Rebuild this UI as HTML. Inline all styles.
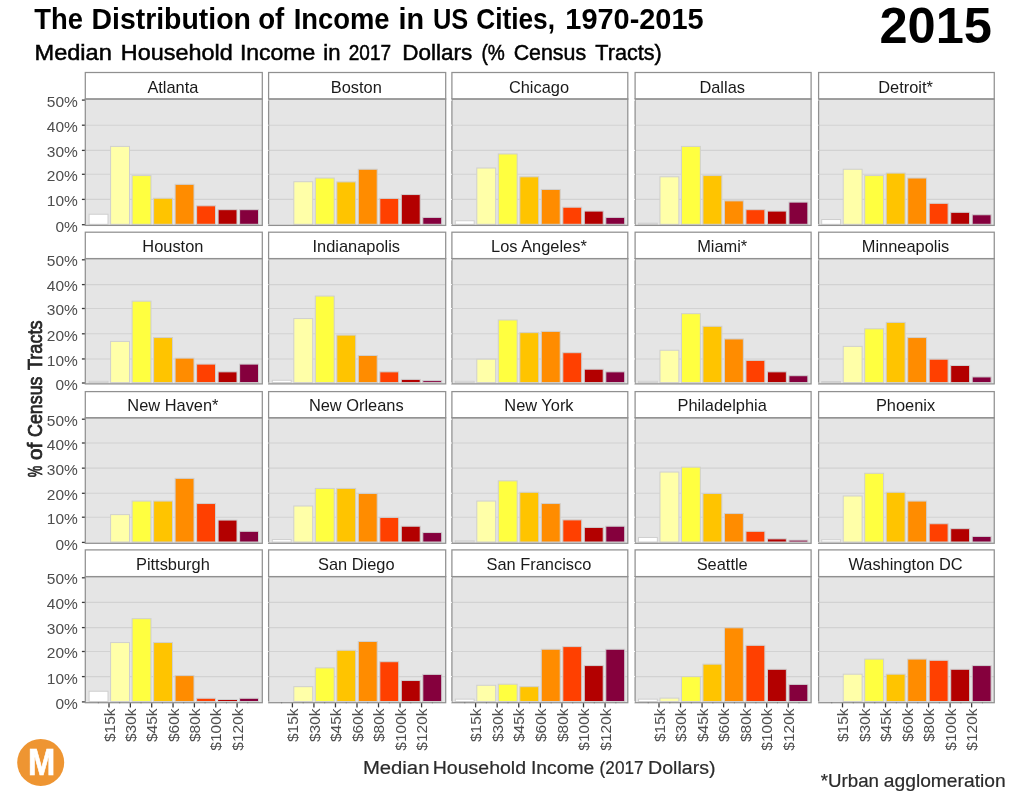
<!DOCTYPE html>
<html lang="en"><head><meta charset="utf-8">
<title>The Distribution of Income in US Cities, 1970-2015</title>
<style>
html,body{margin:0;padding:0;background:#fff;}
body{width:1024px;height:812px;overflow:hidden;}
svg{display:block;font-family:"Liberation Sans",Arial,sans-serif;}
.ttl{font-weight:bold;fill:#000;}
.sub{fill:#000;stroke:#000;stroke-width:0.5;}
.yr{font-weight:bold;fill:#000;}
.strip{fill:#1a1a1a;text-anchor:middle;}
.ax{fill:#4d4d4d;}
.axt{fill:#2b2b2b;stroke:#2b2b2b;stroke-width:0.2;}
.ayt{fill:#262626;stroke:#262626;stroke-width:0.75;}
.b rect{stroke:#cfcfcf;stroke-width:1;}
.g line{stroke:#d2d2d2;stroke-width:1.1;}
.t line{stroke:#3a3a3a;stroke-width:1.3;}
.w line{stroke:#fff;stroke-width:1;}
.m line{stroke:#555;stroke-width:1;opacity:.55;}
.bd{fill:none;stroke:#909090;stroke-width:1.25;}
</style></head><body>
<svg width="1024" height="812" viewBox="0 0 1024 812" role="img" aria-label="The Distribution of Income in US Cities, 2015">
<g>
<rect width="1024" height="812" fill="#fff"/>
<text class="ttl" y="29" font-size="29.2"><tspan x="34.3" textLength="48.7" lengthAdjust="spacingAndGlyphs">The</tspan> <tspan x="91.5" textLength="159.4" lengthAdjust="spacingAndGlyphs">Distribution</tspan> <tspan x="258.2" textLength="26.1" lengthAdjust="spacingAndGlyphs">of</tspan> <tspan x="293.65" textLength="95.9" lengthAdjust="spacingAndGlyphs">Income</tspan> <tspan x="398.5" textLength="25.65" lengthAdjust="spacingAndGlyphs">in</tspan> <tspan x="432.9" textLength="35.3" lengthAdjust="spacingAndGlyphs">US</tspan> <tspan x="476.2" textLength="78.85" lengthAdjust="spacingAndGlyphs">Cities,</tspan> <tspan x="565.3" textLength="138.3" lengthAdjust="spacingAndGlyphs">1970-2015</tspan></text>
<text class="sub" y="59.7" font-size="22"><tspan x="34.5" textLength="77.3" lengthAdjust="spacingAndGlyphs">Median</tspan> <tspan x="120.75" textLength="111.9" lengthAdjust="spacingAndGlyphs">Household</tspan> <tspan x="239.9" textLength="75.45" lengthAdjust="spacingAndGlyphs">Income</tspan> <tspan x="323.25" textLength="17.2" lengthAdjust="spacingAndGlyphs">in</tspan> <tspan x="348.8" textLength="42.3" lengthAdjust="spacingAndGlyphs">2017</tspan> <tspan x="402.2" textLength="70.15" lengthAdjust="spacingAndGlyphs">Dollars</tspan> <tspan x="481.45" textLength="23.4" lengthAdjust="spacingAndGlyphs">(%</tspan> <tspan x="513.65" textLength="72.45" lengthAdjust="spacingAndGlyphs">Census</tspan> <tspan x="595.35" textLength="66.3" lengthAdjust="spacingAndGlyphs">Tracts)</tspan></text>
<text class="yr" x="879.4" y="43.2" font-size="50.4" textLength="112.6" lengthAdjust="spacingAndGlyphs">2015</text>
<g>
<rect x="85.3" y="99" width="177" height="126.4" fill="#e5e5e5"/>
<g class="g"><line x1="85.3" x2="262.3" y1="125.2" y2="125.2"/><line x1="85.3" x2="262.3" y1="150.4" y2="150.4"/><line x1="85.3" x2="262.3" y1="174.3" y2="174.3"/><line x1="85.3" x2="262.3" y1="199.4" y2="199.4"/></g>
<g class="b">
<rect x="89.1" y="214.24" width="18.9" height="10.06" fill="#ffffff"/>
<rect x="110.6" y="146.39" width="18.9" height="77.91" fill="#ffffa8"/>
<rect x="132.1" y="175.57" width="18.9" height="48.73" fill="#ffff40"/>
<rect x="153.6" y="198.25" width="18.9" height="26.05" fill="#ffc400"/>
<rect x="175.1" y="184.36" width="18.9" height="39.94" fill="#ff8c00"/>
<rect x="196.6" y="205.81" width="18.9" height="18.49" fill="#ff4000"/>
<rect x="218.1" y="209.67" width="18.9" height="14.63" fill="#b30000"/>
<rect x="239.6" y="209.67" width="18.9" height="14.63" fill="#85003d"/>
</g>
<rect class="bd" x="85.3" y="72.5" width="177" height="26.5" fill="#fff" style="fill:#fff"/>
<rect class="bd" x="85.3" y="99" width="177" height="126.4"/>
<text class="strip" x="172.9" y="93.2" font-size="16.4">Atlanta</text>
<g class="t"><line x1="81.9" x2="84.8" y1="100.1" y2="100.1"/><line x1="81.9" x2="84.8" y1="125.2" y2="125.2"/><line x1="81.9" x2="84.8" y1="150.4" y2="150.4"/><line x1="81.9" x2="84.8" y1="174.3" y2="174.3"/><line x1="81.9" x2="84.8" y1="199.4" y2="199.4"/><line x1="81.9" x2="84.8" y1="224.7" y2="224.7"/></g>
<text class="ax" x="77.9" y="106.65" font-size="15.5" text-anchor="end">50%</text>
<text class="ax" x="77.9" y="131.88" font-size="15.5" text-anchor="end">40%</text>
<text class="ax" x="77.9" y="157.21" font-size="15.5" text-anchor="end">30%</text>
<text class="ax" x="77.9" y="181.24" font-size="15.5" text-anchor="end">20%</text>
<text class="ax" x="77.9" y="206.47" font-size="15.5" text-anchor="end">10%</text>
<text class="ax" x="77.9" y="231.9" font-size="15.5" text-anchor="end">0%</text>
</g>
<g>
<rect x="268.6" y="99" width="177.1" height="126.4" fill="#e5e5e5"/>
<g class="g"><line x1="268.6" x2="445.7" y1="125.2" y2="125.2"/><line x1="268.6" x2="445.7" y1="150.4" y2="150.4"/><line x1="268.6" x2="445.7" y1="174.3" y2="174.3"/><line x1="268.6" x2="445.7" y1="199.4" y2="199.4"/></g>
<g class="b">
<rect x="293.8" y="181.72" width="18.9" height="42.58" fill="#ffffa8"/>
<rect x="315.3" y="178.03" width="18.9" height="46.27" fill="#ffff40"/>
<rect x="336.8" y="181.9" width="18.9" height="42.4" fill="#ffc400"/>
<rect x="358.3" y="169.24" width="18.9" height="55.06" fill="#ff8c00"/>
<rect x="379.8" y="198.42" width="18.9" height="25.88" fill="#ff4000"/>
<rect x="401.3" y="194.56" width="18.9" height="29.74" fill="#b30000"/>
<rect x="422.8" y="217.41" width="18.9" height="6.89" fill="#85003d"/>
</g>
<rect class="bd" x="268.6" y="72.5" width="177.1" height="26.5" fill="#fff" style="fill:#fff"/>
<rect class="bd" x="268.6" y="99" width="177.1" height="126.4"/>
<text class="strip" x="356.25" y="93.2" font-size="16.4">Boston</text>
<g class="w"><line x1="265.2" x2="268.6" y1="100.1" y2="100.1"/><line x1="265.2" x2="268.6" y1="125.2" y2="125.2"/><line x1="265.2" x2="268.6" y1="150.4" y2="150.4"/><line x1="265.2" x2="268.6" y1="174.3" y2="174.3"/><line x1="265.2" x2="268.6" y1="199.4" y2="199.4"/><line x1="265.2" x2="268.6" y1="224.7" y2="224.7"/></g>
</g>
<g>
<rect x="451.9" y="99" width="175.9" height="126.4" fill="#e5e5e5"/>
<g class="g"><line x1="451.9" x2="627.8" y1="125.2" y2="125.2"/><line x1="451.9" x2="627.8" y1="150.4" y2="150.4"/><line x1="451.9" x2="627.8" y1="174.3" y2="174.3"/><line x1="451.9" x2="627.8" y1="199.4" y2="199.4"/></g>
<g class="b">
<rect x="455.3" y="220.75" width="18.9" height="3.55" fill="#ffffff"/>
<rect x="476.8" y="168.01" width="18.9" height="56.29" fill="#ffffa8"/>
<rect x="498.3" y="153.95" width="18.9" height="70.35" fill="#ffff40"/>
<rect x="519.8" y="176.8" width="18.9" height="47.5" fill="#ffc400"/>
<rect x="541.3" y="189.46" width="18.9" height="34.84" fill="#ff8c00"/>
<rect x="562.8" y="207.21" width="18.9" height="17.09" fill="#ff4000"/>
<rect x="584.3" y="211.08" width="18.9" height="13.22" fill="#b30000"/>
<rect x="605.8" y="217.41" width="18.9" height="6.89" fill="#85003d"/>
</g>
<rect class="bd" x="451.9" y="72.5" width="175.9" height="26.5" fill="#fff" style="fill:#fff"/>
<rect class="bd" x="451.9" y="99" width="175.9" height="126.4"/>
<text class="strip" x="538.95" y="93.2" font-size="16.4">Chicago</text>
<g class="w"><line x1="448.5" x2="451.9" y1="100.1" y2="100.1"/><line x1="448.5" x2="451.9" y1="125.2" y2="125.2"/><line x1="448.5" x2="451.9" y1="150.4" y2="150.4"/><line x1="448.5" x2="451.9" y1="174.3" y2="174.3"/><line x1="448.5" x2="451.9" y1="199.4" y2="199.4"/><line x1="448.5" x2="451.9" y1="224.7" y2="224.7"/></g>
</g>
<g>
<rect x="635.1" y="99" width="176" height="126.4" fill="#e5e5e5"/>
<g class="g"><line x1="635.1" x2="811.1" y1="125.2" y2="125.2"/><line x1="635.1" x2="811.1" y1="150.4" y2="150.4"/><line x1="635.1" x2="811.1" y1="174.3" y2="174.3"/><line x1="635.1" x2="811.1" y1="199.4" y2="199.4"/></g>
<g class="b">
<rect x="638.45" y="223.21" width="18.9" height="1.09" fill="#ffffff"/>
<rect x="659.95" y="176.8" width="18.9" height="47.5" fill="#ffffa8"/>
<rect x="681.45" y="146.39" width="18.9" height="77.91" fill="#ffff40"/>
<rect x="702.95" y="175.57" width="18.9" height="48.73" fill="#ffc400"/>
<rect x="724.45" y="200.88" width="18.9" height="23.42" fill="#ff8c00"/>
<rect x="745.95" y="209.67" width="18.9" height="14.63" fill="#ff4000"/>
<rect x="767.45" y="211.08" width="18.9" height="13.22" fill="#b30000"/>
<rect x="788.95" y="202.11" width="18.9" height="22.19" fill="#85003d"/>
</g>
<rect class="bd" x="635.1" y="72.5" width="176" height="26.5" fill="#fff" style="fill:#fff"/>
<rect class="bd" x="635.1" y="99" width="176" height="126.4"/>
<text class="strip" x="722.2" y="93.2" font-size="16.4">Dallas</text>
<g class="w"><line x1="631.7" x2="635.1" y1="100.1" y2="100.1"/><line x1="631.7" x2="635.1" y1="125.2" y2="125.2"/><line x1="631.7" x2="635.1" y1="150.4" y2="150.4"/><line x1="631.7" x2="635.1" y1="174.3" y2="174.3"/><line x1="631.7" x2="635.1" y1="199.4" y2="199.4"/><line x1="631.7" x2="635.1" y1="224.7" y2="224.7"/></g>
</g>
<g>
<rect x="818.6" y="99" width="175.65" height="126.4" fill="#e5e5e5"/>
<g class="g"><line x1="818.6" x2="994.25" y1="125.2" y2="125.2"/><line x1="818.6" x2="994.25" y1="150.4" y2="150.4"/><line x1="818.6" x2="994.25" y1="174.3" y2="174.3"/><line x1="818.6" x2="994.25" y1="199.4" y2="199.4"/></g>
<g class="b">
<rect x="821.7" y="219.52" width="18.9" height="4.78" fill="#ffffff"/>
<rect x="843.2" y="169.24" width="18.9" height="55.06" fill="#ffffa8"/>
<rect x="864.7" y="175.57" width="18.9" height="48.73" fill="#ffff40"/>
<rect x="886.2" y="173.11" width="18.9" height="51.19" fill="#ffc400"/>
<rect x="907.7" y="178.03" width="18.9" height="46.27" fill="#ff8c00"/>
<rect x="929.2" y="203.34" width="18.9" height="20.96" fill="#ff4000"/>
<rect x="950.7" y="212.31" width="18.9" height="11.99" fill="#b30000"/>
<rect x="972.2" y="214.77" width="18.9" height="9.53" fill="#85003d"/>
</g>
<rect class="bd" x="818.6" y="72.5" width="175.65" height="26.5" fill="#fff" style="fill:#fff"/>
<rect class="bd" x="818.6" y="99" width="175.65" height="126.4"/>
<text class="strip" x="905.52" y="93.2" font-size="16.4">Detroit*</text>
<g class="w"><line x1="815.2" x2="818.6" y1="100.1" y2="100.1"/><line x1="815.2" x2="818.6" y1="125.2" y2="125.2"/><line x1="815.2" x2="818.6" y1="150.4" y2="150.4"/><line x1="815.2" x2="818.6" y1="174.3" y2="174.3"/><line x1="815.2" x2="818.6" y1="199.4" y2="199.4"/><line x1="815.2" x2="818.6" y1="224.7" y2="224.7"/></g>
</g>
<g>
<rect x="85.3" y="258.6" width="177" height="125.3" fill="#e5e5e5"/>
<g class="g"><line x1="85.3" x2="262.3" y1="284.6" y2="284.6"/><line x1="85.3" x2="262.3" y1="308.5" y2="308.5"/><line x1="85.3" x2="262.3" y1="333.8" y2="333.8"/><line x1="85.3" x2="262.3" y1="358.95" y2="358.95"/></g>
<g class="b">
<rect x="89.1" y="381.33" width="18.9" height="1.27" fill="#ffffff"/>
<rect x="110.6" y="341.43" width="18.9" height="41.17" fill="#ffffa8"/>
<rect x="132.1" y="301.17" width="18.9" height="81.43" fill="#ffff40"/>
<rect x="153.6" y="337.56" width="18.9" height="45.04" fill="#ffc400"/>
<rect x="175.1" y="358.13" width="18.9" height="24.47" fill="#ff8c00"/>
<rect x="196.6" y="364.1" width="18.9" height="18.5" fill="#ff4000"/>
<rect x="218.1" y="371.84" width="18.9" height="10.76" fill="#b30000"/>
<rect x="239.6" y="364.1" width="18.9" height="18.5" fill="#85003d"/>
</g>
<rect class="bd" x="85.3" y="232.2" width="177" height="26.4" fill="#fff" style="fill:#fff"/>
<rect class="bd" x="85.3" y="258.6" width="177" height="125.3"/>
<text class="strip" x="172.9" y="251.5" font-size="16.4">Houston</text>
<g class="t"><line x1="81.9" x2="84.8" y1="259.8" y2="259.8"/><line x1="81.9" x2="84.8" y1="284.6" y2="284.6"/><line x1="81.9" x2="84.8" y1="308.5" y2="308.5"/><line x1="81.9" x2="84.8" y1="333.8" y2="333.8"/><line x1="81.9" x2="84.8" y1="358.95" y2="358.95"/><line x1="81.9" x2="84.8" y1="383" y2="383"/></g>
<text class="ax" x="77.9" y="266.35" font-size="15.5" text-anchor="end">50%</text>
<text class="ax" x="77.9" y="291.28" font-size="15.5" text-anchor="end">40%</text>
<text class="ax" x="77.9" y="315.31" font-size="15.5" text-anchor="end">30%</text>
<text class="ax" x="77.9" y="340.74" font-size="15.5" text-anchor="end">20%</text>
<text class="ax" x="77.9" y="366.02" font-size="15.5" text-anchor="end">10%</text>
<text class="ax" x="77.9" y="390.2" font-size="15.5" text-anchor="end">0%</text>
</g>
<g>
<rect x="268.6" y="258.6" width="177.1" height="125.3" fill="#e5e5e5"/>
<g class="g"><line x1="268.6" x2="445.7" y1="284.6" y2="284.6"/><line x1="268.6" x2="445.7" y1="308.5" y2="308.5"/><line x1="268.6" x2="445.7" y1="333.8" y2="333.8"/><line x1="268.6" x2="445.7" y1="358.95" y2="358.95"/></g>
<g class="b">
<rect x="272.3" y="380.27" width="18.9" height="2.33" fill="#ffffff"/>
<rect x="293.8" y="318.57" width="18.9" height="64.03" fill="#ffffa8"/>
<rect x="315.3" y="296.07" width="18.9" height="86.53" fill="#ffff40"/>
<rect x="336.8" y="335.1" width="18.9" height="47.5" fill="#ffc400"/>
<rect x="358.3" y="355.49" width="18.9" height="27.11" fill="#ff8c00"/>
<rect x="379.8" y="371.84" width="18.9" height="10.76" fill="#ff4000"/>
<rect x="401.3" y="379.4" width="18.9" height="3.2" fill="#b30000"/>
<rect x="422.8" y="380.63" width="18.9" height="1.97" fill="#85003d"/>
</g>
<rect class="bd" x="268.6" y="232.2" width="177.1" height="26.4" fill="#fff" style="fill:#fff"/>
<rect class="bd" x="268.6" y="258.6" width="177.1" height="125.3"/>
<text class="strip" x="356.25" y="251.5" font-size="16.4">Indianapolis</text>
<g class="w"><line x1="265.2" x2="268.6" y1="259.8" y2="259.8"/><line x1="265.2" x2="268.6" y1="284.6" y2="284.6"/><line x1="265.2" x2="268.6" y1="308.5" y2="308.5"/><line x1="265.2" x2="268.6" y1="333.8" y2="333.8"/><line x1="265.2" x2="268.6" y1="358.95" y2="358.95"/><line x1="265.2" x2="268.6" y1="383" y2="383"/></g>
</g>
<g>
<rect x="451.9" y="258.6" width="175.9" height="125.3" fill="#e5e5e5"/>
<g class="g"><line x1="451.9" x2="627.8" y1="284.6" y2="284.6"/><line x1="451.9" x2="627.8" y1="308.5" y2="308.5"/><line x1="451.9" x2="627.8" y1="333.8" y2="333.8"/><line x1="451.9" x2="627.8" y1="358.95" y2="358.95"/></g>
<g class="b">
<rect x="455.3" y="381.33" width="18.9" height="1.27" fill="#ffffff"/>
<rect x="476.8" y="359.18" width="18.9" height="23.42" fill="#ffffa8"/>
<rect x="498.3" y="319.98" width="18.9" height="62.62" fill="#ffff40"/>
<rect x="519.8" y="332.64" width="18.9" height="49.96" fill="#ffc400"/>
<rect x="541.3" y="331.41" width="18.9" height="51.19" fill="#ff8c00"/>
<rect x="562.8" y="352.68" width="18.9" height="29.92" fill="#ff4000"/>
<rect x="584.3" y="369.2" width="18.9" height="13.4" fill="#b30000"/>
<rect x="605.8" y="371.84" width="18.9" height="10.76" fill="#85003d"/>
</g>
<rect class="bd" x="451.9" y="232.2" width="175.9" height="26.4" fill="#fff" style="fill:#fff"/>
<rect class="bd" x="451.9" y="258.6" width="175.9" height="125.3"/>
<text class="strip" x="538.95" y="251.5" font-size="16.4">Los Angeles*</text>
<g class="w"><line x1="448.5" x2="451.9" y1="259.8" y2="259.8"/><line x1="448.5" x2="451.9" y1="284.6" y2="284.6"/><line x1="448.5" x2="451.9" y1="308.5" y2="308.5"/><line x1="448.5" x2="451.9" y1="333.8" y2="333.8"/><line x1="448.5" x2="451.9" y1="358.95" y2="358.95"/><line x1="448.5" x2="451.9" y1="383" y2="383"/></g>
</g>
<g>
<rect x="635.1" y="258.6" width="176" height="125.3" fill="#e5e5e5"/>
<g class="g"><line x1="635.1" x2="811.1" y1="284.6" y2="284.6"/><line x1="635.1" x2="811.1" y1="308.5" y2="308.5"/><line x1="635.1" x2="811.1" y1="333.8" y2="333.8"/><line x1="635.1" x2="811.1" y1="358.95" y2="358.95"/></g>
<g class="b">
<rect x="638.45" y="381.33" width="18.9" height="1.27" fill="#ffffff"/>
<rect x="659.95" y="350.22" width="18.9" height="32.38" fill="#ffffa8"/>
<rect x="681.45" y="313.65" width="18.9" height="68.95" fill="#ffff40"/>
<rect x="702.95" y="326.31" width="18.9" height="56.29" fill="#ffc400"/>
<rect x="724.45" y="338.97" width="18.9" height="43.63" fill="#ff8c00"/>
<rect x="745.95" y="360.41" width="18.9" height="22.19" fill="#ff4000"/>
<rect x="767.45" y="371.84" width="18.9" height="10.76" fill="#b30000"/>
<rect x="788.95" y="375.7" width="18.9" height="6.9" fill="#85003d"/>
</g>
<rect class="bd" x="635.1" y="232.2" width="176" height="26.4" fill="#fff" style="fill:#fff"/>
<rect class="bd" x="635.1" y="258.6" width="176" height="125.3"/>
<text class="strip" x="722.2" y="251.5" font-size="16.4">Miami*</text>
<g class="w"><line x1="631.7" x2="635.1" y1="259.8" y2="259.8"/><line x1="631.7" x2="635.1" y1="284.6" y2="284.6"/><line x1="631.7" x2="635.1" y1="308.5" y2="308.5"/><line x1="631.7" x2="635.1" y1="333.8" y2="333.8"/><line x1="631.7" x2="635.1" y1="358.95" y2="358.95"/><line x1="631.7" x2="635.1" y1="383" y2="383"/></g>
</g>
<g>
<rect x="818.6" y="258.6" width="175.65" height="125.3" fill="#e5e5e5"/>
<g class="g"><line x1="818.6" x2="994.25" y1="284.6" y2="284.6"/><line x1="818.6" x2="994.25" y1="308.5" y2="308.5"/><line x1="818.6" x2="994.25" y1="333.8" y2="333.8"/><line x1="818.6" x2="994.25" y1="358.95" y2="358.95"/></g>
<g class="b">
<rect x="821.7" y="381.5" width="18.9" height="1.1" fill="#ffffff"/>
<rect x="843.2" y="346.35" width="18.9" height="36.25" fill="#ffffa8"/>
<rect x="864.7" y="328.77" width="18.9" height="53.83" fill="#ffff40"/>
<rect x="886.2" y="322.44" width="18.9" height="60.16" fill="#ffc400"/>
<rect x="907.7" y="337.56" width="18.9" height="45.04" fill="#ff8c00"/>
<rect x="929.2" y="359.18" width="18.9" height="23.42" fill="#ff4000"/>
<rect x="950.7" y="365.51" width="18.9" height="17.09" fill="#b30000"/>
<rect x="972.2" y="376.93" width="18.9" height="5.67" fill="#85003d"/>
</g>
<rect class="bd" x="818.6" y="232.2" width="175.65" height="26.4" fill="#fff" style="fill:#fff"/>
<rect class="bd" x="818.6" y="258.6" width="175.65" height="125.3"/>
<text class="strip" x="905.52" y="251.5" font-size="16.4">Minneapolis</text>
<g class="w"><line x1="815.2" x2="818.6" y1="259.8" y2="259.8"/><line x1="815.2" x2="818.6" y1="284.6" y2="284.6"/><line x1="815.2" x2="818.6" y1="308.5" y2="308.5"/><line x1="815.2" x2="818.6" y1="333.8" y2="333.8"/><line x1="815.2" x2="818.6" y1="358.95" y2="358.95"/><line x1="815.2" x2="818.6" y1="383" y2="383"/></g>
</g>
<g>
<rect x="85.3" y="417.8" width="177" height="125.5" fill="#e5e5e5"/>
<g class="g"><line x1="85.3" x2="262.3" y1="443" y2="443"/><line x1="85.3" x2="262.3" y1="468.15" y2="468.15"/><line x1="85.3" x2="262.3" y1="493.3" y2="493.3"/><line x1="85.3" x2="262.3" y1="517.2" y2="517.2"/></g>
<g class="b">
<rect x="110.6" y="514.61" width="18.9" height="27.39" fill="#ffffa8"/>
<rect x="132.1" y="501.07" width="18.9" height="40.93" fill="#ffff40"/>
<rect x="153.6" y="501.07" width="18.9" height="40.93" fill="#ffc400"/>
<rect x="175.1" y="478.4" width="18.9" height="63.6" fill="#ff8c00"/>
<rect x="196.6" y="503.54" width="18.9" height="38.46" fill="#ff4000"/>
<rect x="218.1" y="520.06" width="18.9" height="21.94" fill="#b30000"/>
<rect x="239.6" y="531.31" width="18.9" height="10.69" fill="#85003d"/>
</g>
<rect class="bd" x="85.3" y="391.6" width="177" height="26.2" fill="#fff" style="fill:#fff"/>
<rect class="bd" x="85.3" y="417.8" width="177" height="125.5"/>
<text class="strip" x="172.9" y="411.4" font-size="16.4">New Haven*</text>
<g class="t"><line x1="81.9" x2="84.8" y1="419.2" y2="419.2"/><line x1="81.9" x2="84.8" y1="443" y2="443"/><line x1="81.9" x2="84.8" y1="468.15" y2="468.15"/><line x1="81.9" x2="84.8" y1="493.3" y2="493.3"/><line x1="81.9" x2="84.8" y1="517.2" y2="517.2"/><line x1="81.9" x2="84.8" y1="542.4" y2="542.4"/></g>
<text class="ax" x="77.9" y="425.75" font-size="15.5" text-anchor="end">50%</text>
<text class="ax" x="77.9" y="449.68" font-size="15.5" text-anchor="end">40%</text>
<text class="ax" x="77.9" y="474.96" font-size="15.5" text-anchor="end">30%</text>
<text class="ax" x="77.9" y="500.24" font-size="15.5" text-anchor="end">20%</text>
<text class="ax" x="77.9" y="524.27" font-size="15.5" text-anchor="end">10%</text>
<text class="ax" x="77.9" y="549.6" font-size="15.5" text-anchor="end">0%</text>
</g>
<g>
<rect x="268.6" y="417.8" width="177.1" height="125.5" fill="#e5e5e5"/>
<g class="g"><line x1="268.6" x2="445.7" y1="443" y2="443"/><line x1="268.6" x2="445.7" y1="468.15" y2="468.15"/><line x1="268.6" x2="445.7" y1="493.3" y2="493.3"/><line x1="268.6" x2="445.7" y1="517.2" y2="517.2"/></g>
<g class="b">
<rect x="272.3" y="539.57" width="18.9" height="2.43" fill="#ffffff"/>
<rect x="293.8" y="506" width="18.9" height="36" fill="#ffffa8"/>
<rect x="315.3" y="488.42" width="18.9" height="53.58" fill="#ffff40"/>
<rect x="336.8" y="488.42" width="18.9" height="53.58" fill="#ffc400"/>
<rect x="358.3" y="493.52" width="18.9" height="48.48" fill="#ff8c00"/>
<rect x="379.8" y="517.42" width="18.9" height="24.58" fill="#ff4000"/>
<rect x="401.3" y="526.21" width="18.9" height="15.79" fill="#b30000"/>
<rect x="422.8" y="532.54" width="18.9" height="9.46" fill="#85003d"/>
</g>
<rect class="bd" x="268.6" y="391.6" width="177.1" height="26.2" fill="#fff" style="fill:#fff"/>
<rect class="bd" x="268.6" y="417.8" width="177.1" height="125.5"/>
<text class="strip" x="356.25" y="411.4" font-size="16.4">New Orleans</text>
<g class="w"><line x1="265.2" x2="268.6" y1="419.2" y2="419.2"/><line x1="265.2" x2="268.6" y1="443" y2="443"/><line x1="265.2" x2="268.6" y1="468.15" y2="468.15"/><line x1="265.2" x2="268.6" y1="493.3" y2="493.3"/><line x1="265.2" x2="268.6" y1="517.2" y2="517.2"/><line x1="265.2" x2="268.6" y1="542.4" y2="542.4"/></g>
</g>
<g>
<rect x="451.9" y="417.8" width="175.9" height="125.5" fill="#e5e5e5"/>
<g class="g"><line x1="451.9" x2="627.8" y1="443" y2="443"/><line x1="451.9" x2="627.8" y1="468.15" y2="468.15"/><line x1="451.9" x2="627.8" y1="493.3" y2="493.3"/><line x1="451.9" x2="627.8" y1="517.2" y2="517.2"/></g>
<g class="b">
<rect x="455.3" y="540.8" width="18.9" height="1.2" fill="#ffffff"/>
<rect x="476.8" y="501.07" width="18.9" height="40.93" fill="#ffffa8"/>
<rect x="498.3" y="480.86" width="18.9" height="61.14" fill="#ffff40"/>
<rect x="519.8" y="492.29" width="18.9" height="49.71" fill="#ffc400"/>
<rect x="541.3" y="503.54" width="18.9" height="38.46" fill="#ff8c00"/>
<rect x="562.8" y="519.88" width="18.9" height="22.12" fill="#ff4000"/>
<rect x="584.3" y="527.44" width="18.9" height="14.56" fill="#b30000"/>
<rect x="605.8" y="526.21" width="18.9" height="15.79" fill="#85003d"/>
</g>
<rect class="bd" x="451.9" y="391.6" width="175.9" height="26.2" fill="#fff" style="fill:#fff"/>
<rect class="bd" x="451.9" y="417.8" width="175.9" height="125.5"/>
<text class="strip" x="538.95" y="411.4" font-size="16.4">New York</text>
<g class="w"><line x1="448.5" x2="451.9" y1="419.2" y2="419.2"/><line x1="448.5" x2="451.9" y1="443" y2="443"/><line x1="448.5" x2="451.9" y1="468.15" y2="468.15"/><line x1="448.5" x2="451.9" y1="493.3" y2="493.3"/><line x1="448.5" x2="451.9" y1="517.2" y2="517.2"/><line x1="448.5" x2="451.9" y1="542.4" y2="542.4"/></g>
</g>
<g>
<rect x="635.1" y="417.8" width="176" height="125.5" fill="#e5e5e5"/>
<g class="g"><line x1="635.1" x2="811.1" y1="443" y2="443"/><line x1="635.1" x2="811.1" y1="468.15" y2="468.15"/><line x1="635.1" x2="811.1" y1="493.3" y2="493.3"/><line x1="635.1" x2="811.1" y1="517.2" y2="517.2"/></g>
<g class="b">
<rect x="638.45" y="537.46" width="18.9" height="4.54" fill="#ffffff"/>
<rect x="659.95" y="472.07" width="18.9" height="69.93" fill="#ffffa8"/>
<rect x="681.45" y="467.15" width="18.9" height="74.85" fill="#ffff40"/>
<rect x="702.95" y="493.52" width="18.9" height="48.48" fill="#ffc400"/>
<rect x="724.45" y="513.56" width="18.9" height="28.44" fill="#ff8c00"/>
<rect x="745.95" y="531.31" width="18.9" height="10.69" fill="#ff4000"/>
<rect x="767.45" y="538.87" width="18.9" height="3.13" fill="#b30000"/>
<rect x="788.95" y="540.1" width="18.9" height="1.9" fill="#85003d"/>
</g>
<rect class="bd" x="635.1" y="391.6" width="176" height="26.2" fill="#fff" style="fill:#fff"/>
<rect class="bd" x="635.1" y="417.8" width="176" height="125.5"/>
<text class="strip" x="722.2" y="411.4" font-size="16.4">Philadelphia</text>
<g class="w"><line x1="631.7" x2="635.1" y1="419.2" y2="419.2"/><line x1="631.7" x2="635.1" y1="443" y2="443"/><line x1="631.7" x2="635.1" y1="468.15" y2="468.15"/><line x1="631.7" x2="635.1" y1="493.3" y2="493.3"/><line x1="631.7" x2="635.1" y1="517.2" y2="517.2"/><line x1="631.7" x2="635.1" y1="542.4" y2="542.4"/></g>
</g>
<g>
<rect x="818.6" y="417.8" width="175.65" height="125.5" fill="#e5e5e5"/>
<g class="g"><line x1="818.6" x2="994.25" y1="443" y2="443"/><line x1="818.6" x2="994.25" y1="468.15" y2="468.15"/><line x1="818.6" x2="994.25" y1="493.3" y2="493.3"/><line x1="818.6" x2="994.25" y1="517.2" y2="517.2"/></g>
<g class="b">
<rect x="821.7" y="539.75" width="18.9" height="2.25" fill="#ffffff"/>
<rect x="843.2" y="495.98" width="18.9" height="46.02" fill="#ffffa8"/>
<rect x="864.7" y="473.3" width="18.9" height="68.7" fill="#ffff40"/>
<rect x="886.2" y="492.29" width="18.9" height="49.71" fill="#ffc400"/>
<rect x="907.7" y="501.07" width="18.9" height="40.93" fill="#ff8c00"/>
<rect x="929.2" y="523.75" width="18.9" height="18.25" fill="#ff4000"/>
<rect x="950.7" y="528.67" width="18.9" height="13.33" fill="#b30000"/>
<rect x="972.2" y="536.41" width="18.9" height="5.59" fill="#85003d"/>
</g>
<rect class="bd" x="818.6" y="391.6" width="175.65" height="26.2" fill="#fff" style="fill:#fff"/>
<rect class="bd" x="818.6" y="417.8" width="175.65" height="125.5"/>
<text class="strip" x="905.52" y="411.4" font-size="16.4">Phoenix</text>
<g class="w"><line x1="815.2" x2="818.6" y1="419.2" y2="419.2"/><line x1="815.2" x2="818.6" y1="443" y2="443"/><line x1="815.2" x2="818.6" y1="468.15" y2="468.15"/><line x1="815.2" x2="818.6" y1="493.3" y2="493.3"/><line x1="815.2" x2="818.6" y1="517.2" y2="517.2"/><line x1="815.2" x2="818.6" y1="542.4" y2="542.4"/></g>
</g>
<g>
<rect x="85.3" y="576.6" width="177" height="126.1" fill="#e5e5e5"/>
<g class="g"><line x1="85.3" x2="262.3" y1="602.4" y2="602.4"/><line x1="85.3" x2="262.3" y1="627.6" y2="627.6"/><line x1="85.3" x2="262.3" y1="651.5" y2="651.5"/><line x1="85.3" x2="262.3" y1="676.6" y2="676.6"/></g>
<g class="b">
<rect x="89.1" y="691.24" width="18.9" height="10.26" fill="#ffffff"/>
<rect x="110.6" y="642.55" width="18.9" height="58.95" fill="#ffffa8"/>
<rect x="132.1" y="618.65" width="18.9" height="82.85" fill="#ffff40"/>
<rect x="153.6" y="642.55" width="18.9" height="58.95" fill="#ffc400"/>
<rect x="175.1" y="675.6" width="18.9" height="25.9" fill="#ff8c00"/>
<rect x="196.6" y="698.27" width="18.9" height="3.23" fill="#ff4000"/>
<rect x="218.1" y="699.5" width="18.9" height="2" fill="#b30000"/>
<rect x="239.6" y="698.27" width="18.9" height="3.23" fill="#85003d"/>
</g>
<rect class="bd" x="85.3" y="549.9" width="177" height="26.7" fill="#fff" style="fill:#fff"/>
<rect class="bd" x="85.3" y="576.6" width="177" height="126.1"/>
<text class="strip" x="172.9" y="570" font-size="16.4">Pittsburgh</text>
<g class="t"><line x1="81.9" x2="84.8" y1="577.8" y2="577.8"/><line x1="81.9" x2="84.8" y1="602.4" y2="602.4"/><line x1="81.9" x2="84.8" y1="627.6" y2="627.6"/><line x1="81.9" x2="84.8" y1="651.5" y2="651.5"/><line x1="81.9" x2="84.8" y1="676.6" y2="676.6"/><line x1="81.9" x2="84.8" y1="701.9" y2="701.9"/></g>
<text class="ax" x="77.9" y="584.35" font-size="15.5" text-anchor="end">50%</text>
<text class="ax" x="77.9" y="609.08" font-size="15.5" text-anchor="end">40%</text>
<text class="ax" x="77.9" y="634.41" font-size="15.5" text-anchor="end">30%</text>
<text class="ax" x="77.9" y="658.44" font-size="15.5" text-anchor="end">20%</text>
<text class="ax" x="77.9" y="683.67" font-size="15.5" text-anchor="end">10%</text>
<text class="ax" x="77.9" y="709.1" font-size="15.5" text-anchor="end">0%</text>
<g class="t">
<line x1="109" x2="109" y1="703.2" y2="707.4"/>
<line x1="130.35" x2="130.35" y1="703.2" y2="707.4"/>
<line x1="151.7" x2="151.7" y1="703.2" y2="707.4"/>
<line x1="173.05" x2="173.05" y1="703.2" y2="707.4"/>
<line x1="194.4" x2="194.4" y1="703.2" y2="707.4"/>
<line x1="215.75" x2="215.75" y1="703.2" y2="707.4"/>
<line x1="237.1" x2="237.1" y1="703.2" y2="707.4"/>
</g>
<g class="m">
<line x1="98.33" x2="98.33" y1="702.3" y2="703.4"/>
<line x1="119.67" x2="119.67" y1="702.3" y2="703.4"/>
<line x1="141.03" x2="141.03" y1="702.3" y2="703.4"/>
<line x1="162.38" x2="162.38" y1="702.3" y2="703.4"/>
<line x1="183.73" x2="183.73" y1="702.3" y2="703.4"/>
<line x1="205.07" x2="205.07" y1="702.3" y2="703.4"/>
<line x1="226.43" x2="226.43" y1="702.3" y2="703.4"/>
<line x1="247.78" x2="247.78" y1="702.3" y2="703.4"/>
</g>
<text class="ax" transform="translate(114.6,708.4) rotate(-90)" font-size="15.5" text-anchor="end">$15k</text>
<text class="ax" transform="translate(135.95,708.4) rotate(-90)" font-size="15.5" text-anchor="end">$30k</text>
<text class="ax" transform="translate(157.3,708.4) rotate(-90)" font-size="15.5" text-anchor="end">$45k</text>
<text class="ax" transform="translate(178.65,708.4) rotate(-90)" font-size="15.5" text-anchor="end">$60k</text>
<text class="ax" transform="translate(200,708.4) rotate(-90)" font-size="15.5" text-anchor="end">$80k</text>
<text class="ax" transform="translate(221.35,708.4) rotate(-90)" font-size="15.5" text-anchor="end">$100k</text>
<text class="ax" transform="translate(242.7,708.4) rotate(-90)" font-size="15.5" text-anchor="end">$120k</text>
</g>
<g>
<rect x="268.6" y="576.6" width="177.1" height="126.1" fill="#e5e5e5"/>
<g class="g"><line x1="268.6" x2="445.7" y1="602.4" y2="602.4"/><line x1="268.6" x2="445.7" y1="627.6" y2="627.6"/><line x1="268.6" x2="445.7" y1="651.5" y2="651.5"/><line x1="268.6" x2="445.7" y1="676.6" y2="676.6"/></g>
<g class="b">
<rect x="293.8" y="686.67" width="18.9" height="14.83" fill="#ffffa8"/>
<rect x="315.3" y="667.86" width="18.9" height="33.64" fill="#ffff40"/>
<rect x="336.8" y="650.29" width="18.9" height="51.21" fill="#ffc400"/>
<rect x="358.3" y="641.5" width="18.9" height="60" fill="#ff8c00"/>
<rect x="379.8" y="661.71" width="18.9" height="39.79" fill="#ff4000"/>
<rect x="401.3" y="680.52" width="18.9" height="20.98" fill="#b30000"/>
<rect x="422.8" y="674.37" width="18.9" height="27.13" fill="#85003d"/>
</g>
<rect class="bd" x="268.6" y="549.9" width="177.1" height="26.7" fill="#fff" style="fill:#fff"/>
<rect class="bd" x="268.6" y="576.6" width="177.1" height="126.1"/>
<text class="strip" x="356.25" y="570" font-size="16.4">San Diego</text>
<g class="w"><line x1="265.2" x2="268.6" y1="577.8" y2="577.8"/><line x1="265.2" x2="268.6" y1="602.4" y2="602.4"/><line x1="265.2" x2="268.6" y1="627.6" y2="627.6"/><line x1="265.2" x2="268.6" y1="651.5" y2="651.5"/><line x1="265.2" x2="268.6" y1="676.6" y2="676.6"/><line x1="265.2" x2="268.6" y1="701.9" y2="701.9"/></g>
<g class="t">
<line x1="292.4" x2="292.4" y1="703.2" y2="707.4"/>
<line x1="313.93" x2="313.93" y1="703.2" y2="707.4"/>
<line x1="335.46" x2="335.46" y1="703.2" y2="707.4"/>
<line x1="356.99" x2="356.99" y1="703.2" y2="707.4"/>
<line x1="378.52" x2="378.52" y1="703.2" y2="707.4"/>
<line x1="400.05" x2="400.05" y1="703.2" y2="707.4"/>
<line x1="421.58" x2="421.58" y1="703.2" y2="707.4"/>
</g>
<g class="m">
<line x1="281.63" x2="281.63" y1="702.3" y2="703.4"/>
<line x1="303.16" x2="303.16" y1="702.3" y2="703.4"/>
<line x1="324.69" x2="324.69" y1="702.3" y2="703.4"/>
<line x1="346.22" x2="346.22" y1="702.3" y2="703.4"/>
<line x1="367.75" x2="367.75" y1="702.3" y2="703.4"/>
<line x1="389.28" x2="389.28" y1="702.3" y2="703.4"/>
<line x1="410.81" x2="410.81" y1="702.3" y2="703.4"/>
<line x1="432.34" x2="432.34" y1="702.3" y2="703.4"/>
</g>
<text class="ax" transform="translate(298,708.4) rotate(-90)" font-size="15.5" text-anchor="end">$15k</text>
<text class="ax" transform="translate(319.53,708.4) rotate(-90)" font-size="15.5" text-anchor="end">$30k</text>
<text class="ax" transform="translate(341.06,708.4) rotate(-90)" font-size="15.5" text-anchor="end">$45k</text>
<text class="ax" transform="translate(362.59,708.4) rotate(-90)" font-size="15.5" text-anchor="end">$60k</text>
<text class="ax" transform="translate(384.12,708.4) rotate(-90)" font-size="15.5" text-anchor="end">$80k</text>
<text class="ax" transform="translate(405.65,708.4) rotate(-90)" font-size="15.5" text-anchor="end">$100k</text>
<text class="ax" transform="translate(427.18,708.4) rotate(-90)" font-size="15.5" text-anchor="end">$120k</text>
</g>
<g>
<rect x="451.9" y="576.6" width="175.9" height="126.1" fill="#e5e5e5"/>
<g class="g"><line x1="451.9" x2="627.8" y1="602.4" y2="602.4"/><line x1="451.9" x2="627.8" y1="627.6" y2="627.6"/><line x1="451.9" x2="627.8" y1="651.5" y2="651.5"/><line x1="451.9" x2="627.8" y1="676.6" y2="676.6"/></g>
<g class="b">
<rect x="455.3" y="699.15" width="18.9" height="2.35" fill="#ffffff"/>
<rect x="476.8" y="685.27" width="18.9" height="16.23" fill="#ffffa8"/>
<rect x="498.3" y="684.21" width="18.9" height="17.29" fill="#ffff40"/>
<rect x="519.8" y="686.67" width="18.9" height="14.83" fill="#ffc400"/>
<rect x="541.3" y="649.23" width="18.9" height="52.27" fill="#ff8c00"/>
<rect x="562.8" y="646.59" width="18.9" height="54.91" fill="#ff4000"/>
<rect x="584.3" y="665.58" width="18.9" height="35.92" fill="#b30000"/>
<rect x="605.8" y="649.23" width="18.9" height="52.27" fill="#85003d"/>
</g>
<rect class="bd" x="451.9" y="549.9" width="175.9" height="26.7" fill="#fff" style="fill:#fff"/>
<rect class="bd" x="451.9" y="576.6" width="175.9" height="126.1"/>
<text class="strip" x="538.95" y="570" font-size="16.4">San Francisco</text>
<g class="w"><line x1="448.5" x2="451.9" y1="577.8" y2="577.8"/><line x1="448.5" x2="451.9" y1="602.4" y2="602.4"/><line x1="448.5" x2="451.9" y1="627.6" y2="627.6"/><line x1="448.5" x2="451.9" y1="651.5" y2="651.5"/><line x1="448.5" x2="451.9" y1="676.6" y2="676.6"/><line x1="448.5" x2="451.9" y1="701.9" y2="701.9"/></g>
<g class="t">
<line x1="475.6" x2="475.6" y1="703.2" y2="707.4"/>
<line x1="497.18" x2="497.18" y1="703.2" y2="707.4"/>
<line x1="518.76" x2="518.76" y1="703.2" y2="707.4"/>
<line x1="540.34" x2="540.34" y1="703.2" y2="707.4"/>
<line x1="561.92" x2="561.92" y1="703.2" y2="707.4"/>
<line x1="583.5" x2="583.5" y1="703.2" y2="707.4"/>
<line x1="605.08" x2="605.08" y1="703.2" y2="707.4"/>
</g>
<g class="m">
<line x1="464.81" x2="464.81" y1="702.3" y2="703.4"/>
<line x1="486.39" x2="486.39" y1="702.3" y2="703.4"/>
<line x1="507.97" x2="507.97" y1="702.3" y2="703.4"/>
<line x1="529.55" x2="529.55" y1="702.3" y2="703.4"/>
<line x1="551.13" x2="551.13" y1="702.3" y2="703.4"/>
<line x1="572.71" x2="572.71" y1="702.3" y2="703.4"/>
<line x1="594.29" x2="594.29" y1="702.3" y2="703.4"/>
<line x1="615.87" x2="615.87" y1="702.3" y2="703.4"/>
</g>
<text class="ax" transform="translate(481.2,708.4) rotate(-90)" font-size="15.5" text-anchor="end">$15k</text>
<text class="ax" transform="translate(502.78,708.4) rotate(-90)" font-size="15.5" text-anchor="end">$30k</text>
<text class="ax" transform="translate(524.36,708.4) rotate(-90)" font-size="15.5" text-anchor="end">$45k</text>
<text class="ax" transform="translate(545.94,708.4) rotate(-90)" font-size="15.5" text-anchor="end">$60k</text>
<text class="ax" transform="translate(567.52,708.4) rotate(-90)" font-size="15.5" text-anchor="end">$80k</text>
<text class="ax" transform="translate(589.1,708.4) rotate(-90)" font-size="15.5" text-anchor="end">$100k</text>
<text class="ax" transform="translate(610.68,708.4) rotate(-90)" font-size="15.5" text-anchor="end">$120k</text>
</g>
<g>
<rect x="635.1" y="576.6" width="176" height="126.1" fill="#e5e5e5"/>
<g class="g"><line x1="635.1" x2="811.1" y1="602.4" y2="602.4"/><line x1="635.1" x2="811.1" y1="627.6" y2="627.6"/><line x1="635.1" x2="811.1" y1="651.5" y2="651.5"/><line x1="635.1" x2="811.1" y1="676.6" y2="676.6"/></g>
<g class="b">
<rect x="638.45" y="699.15" width="18.9" height="2.35" fill="#ffffff"/>
<rect x="659.95" y="698.1" width="18.9" height="3.4" fill="#ffffa8"/>
<rect x="681.45" y="676.65" width="18.9" height="24.85" fill="#ffff40"/>
<rect x="702.95" y="664.17" width="18.9" height="37.33" fill="#ffc400"/>
<rect x="724.45" y="627.79" width="18.9" height="73.71" fill="#ff8c00"/>
<rect x="745.95" y="645.36" width="18.9" height="56.14" fill="#ff4000"/>
<rect x="767.45" y="669.27" width="18.9" height="32.23" fill="#b30000"/>
<rect x="788.95" y="684.39" width="18.9" height="17.11" fill="#85003d"/>
</g>
<rect class="bd" x="635.1" y="549.9" width="176" height="26.7" fill="#fff" style="fill:#fff"/>
<rect class="bd" x="635.1" y="576.6" width="176" height="126.1"/>
<text class="strip" x="722.2" y="570" font-size="16.4">Seattle</text>
<g class="w"><line x1="631.7" x2="635.1" y1="577.8" y2="577.8"/><line x1="631.7" x2="635.1" y1="602.4" y2="602.4"/><line x1="631.7" x2="635.1" y1="627.6" y2="627.6"/><line x1="631.7" x2="635.1" y1="651.5" y2="651.5"/><line x1="631.7" x2="635.1" y1="676.6" y2="676.6"/><line x1="631.7" x2="635.1" y1="701.9" y2="701.9"/></g>
<g class="t">
<line x1="659" x2="659" y1="703.2" y2="707.4"/>
<line x1="680.54" x2="680.54" y1="703.2" y2="707.4"/>
<line x1="702.08" x2="702.08" y1="703.2" y2="707.4"/>
<line x1="723.62" x2="723.62" y1="703.2" y2="707.4"/>
<line x1="745.16" x2="745.16" y1="703.2" y2="707.4"/>
<line x1="766.7" x2="766.7" y1="703.2" y2="707.4"/>
<line x1="788.24" x2="788.24" y1="703.2" y2="707.4"/>
</g>
<g class="m">
<line x1="648.23" x2="648.23" y1="702.3" y2="703.4"/>
<line x1="669.77" x2="669.77" y1="702.3" y2="703.4"/>
<line x1="691.31" x2="691.31" y1="702.3" y2="703.4"/>
<line x1="712.85" x2="712.85" y1="702.3" y2="703.4"/>
<line x1="734.39" x2="734.39" y1="702.3" y2="703.4"/>
<line x1="755.93" x2="755.93" y1="702.3" y2="703.4"/>
<line x1="777.47" x2="777.47" y1="702.3" y2="703.4"/>
<line x1="799.01" x2="799.01" y1="702.3" y2="703.4"/>
</g>
<text class="ax" transform="translate(664.6,708.4) rotate(-90)" font-size="15.5" text-anchor="end">$15k</text>
<text class="ax" transform="translate(686.14,708.4) rotate(-90)" font-size="15.5" text-anchor="end">$30k</text>
<text class="ax" transform="translate(707.68,708.4) rotate(-90)" font-size="15.5" text-anchor="end">$45k</text>
<text class="ax" transform="translate(729.22,708.4) rotate(-90)" font-size="15.5" text-anchor="end">$60k</text>
<text class="ax" transform="translate(750.76,708.4) rotate(-90)" font-size="15.5" text-anchor="end">$80k</text>
<text class="ax" transform="translate(772.3,708.4) rotate(-90)" font-size="15.5" text-anchor="end">$100k</text>
<text class="ax" transform="translate(793.84,708.4) rotate(-90)" font-size="15.5" text-anchor="end">$120k</text>
</g>
<g>
<rect x="818.6" y="576.6" width="175.65" height="126.1" fill="#e5e5e5"/>
<g class="g"><line x1="818.6" x2="994.25" y1="602.4" y2="602.4"/><line x1="818.6" x2="994.25" y1="627.6" y2="627.6"/><line x1="818.6" x2="994.25" y1="651.5" y2="651.5"/><line x1="818.6" x2="994.25" y1="676.6" y2="676.6"/></g>
<g class="b">
<rect x="843.2" y="674.19" width="18.9" height="27.31" fill="#ffffa8"/>
<rect x="864.7" y="659.08" width="18.9" height="42.42" fill="#ffff40"/>
<rect x="886.2" y="674.19" width="18.9" height="27.31" fill="#ffc400"/>
<rect x="907.7" y="659.08" width="18.9" height="42.42" fill="#ff8c00"/>
<rect x="929.2" y="660.31" width="18.9" height="41.19" fill="#ff4000"/>
<rect x="950.7" y="669.27" width="18.9" height="32.23" fill="#b30000"/>
<rect x="972.2" y="665.58" width="18.9" height="35.92" fill="#85003d"/>
</g>
<rect class="bd" x="818.6" y="549.9" width="175.65" height="26.7" fill="#fff" style="fill:#fff"/>
<rect class="bd" x="818.6" y="576.6" width="175.65" height="126.1"/>
<text class="strip" x="905.52" y="570" font-size="16.4">Washington DC</text>
<g class="w"><line x1="815.2" x2="818.6" y1="577.8" y2="577.8"/><line x1="815.2" x2="818.6" y1="602.4" y2="602.4"/><line x1="815.2" x2="818.6" y1="627.6" y2="627.6"/><line x1="815.2" x2="818.6" y1="651.5" y2="651.5"/><line x1="815.2" x2="818.6" y1="676.6" y2="676.6"/><line x1="815.2" x2="818.6" y1="701.9" y2="701.9"/></g>
<g class="t">
<line x1="842.5" x2="842.5" y1="703.2" y2="707.4"/>
<line x1="864.02" x2="864.02" y1="703.2" y2="707.4"/>
<line x1="885.54" x2="885.54" y1="703.2" y2="707.4"/>
<line x1="907.06" x2="907.06" y1="703.2" y2="707.4"/>
<line x1="928.58" x2="928.58" y1="703.2" y2="707.4"/>
<line x1="950.1" x2="950.1" y1="703.2" y2="707.4"/>
<line x1="971.62" x2="971.62" y1="703.2" y2="707.4"/>
</g>
<g class="m">
<line x1="831.74" x2="831.74" y1="702.3" y2="703.4"/>
<line x1="853.26" x2="853.26" y1="702.3" y2="703.4"/>
<line x1="874.78" x2="874.78" y1="702.3" y2="703.4"/>
<line x1="896.3" x2="896.3" y1="702.3" y2="703.4"/>
<line x1="917.82" x2="917.82" y1="702.3" y2="703.4"/>
<line x1="939.34" x2="939.34" y1="702.3" y2="703.4"/>
<line x1="960.86" x2="960.86" y1="702.3" y2="703.4"/>
<line x1="982.38" x2="982.38" y1="702.3" y2="703.4"/>
</g>
<text class="ax" transform="translate(848.1,708.4) rotate(-90)" font-size="15.5" text-anchor="end">$15k</text>
<text class="ax" transform="translate(869.62,708.4) rotate(-90)" font-size="15.5" text-anchor="end">$30k</text>
<text class="ax" transform="translate(891.14,708.4) rotate(-90)" font-size="15.5" text-anchor="end">$45k</text>
<text class="ax" transform="translate(912.66,708.4) rotate(-90)" font-size="15.5" text-anchor="end">$60k</text>
<text class="ax" transform="translate(934.18,708.4) rotate(-90)" font-size="15.5" text-anchor="end">$80k</text>
<text class="ax" transform="translate(955.7,708.4) rotate(-90)" font-size="15.5" text-anchor="end">$100k</text>
<text class="ax" transform="translate(977.22,708.4) rotate(-90)" font-size="15.5" text-anchor="end">$120k</text>
</g>
<text class="axt" y="773.9" font-size="18"><tspan x="362.9" textLength="66.55" lengthAdjust="spacingAndGlyphs">Median</tspan> <tspan x="432.75" textLength="93.3" lengthAdjust="spacingAndGlyphs">Household</tspan> <tspan x="530.95" textLength="63.25" lengthAdjust="spacingAndGlyphs">Income</tspan> <tspan x="599.6" textLength="44" lengthAdjust="spacingAndGlyphs">(2017</tspan> <tspan x="648.1" textLength="67.35" lengthAdjust="spacingAndGlyphs">Dollars)</tspan></text>
<text class="ayt" y="0" font-size="19.4" transform="translate(42.1,478) rotate(-90)"><tspan x="0.75" textLength="11.5" lengthAdjust="spacingAndGlyphs">%</tspan> <tspan x="18.1" textLength="17.25" lengthAdjust="spacingAndGlyphs">of</tspan> <tspan x="41.05" textLength="60.45" lengthAdjust="spacingAndGlyphs">Census</tspan> <tspan x="107.95" textLength="49.55" lengthAdjust="spacingAndGlyphs">Tracts</tspan></text>
<text class="axt" y="786.6" font-size="17.8"><tspan x="820.7" textLength="58.3" lengthAdjust="spacingAndGlyphs">*Urban</tspan> <tspan x="883.8" textLength="121.85" lengthAdjust="spacingAndGlyphs">agglomeration</tspan></text>
<circle cx="40.7" cy="762.5" r="23.5" fill="#ee9532"/>
<text x="41.6" y="774.8" font-size="36.8" font-weight="bold" fill="#fff" stroke="#fff" stroke-width="0.7" text-anchor="middle" textLength="27.2" lengthAdjust="spacingAndGlyphs">M</text>
</g>
</svg>
</body></html>
